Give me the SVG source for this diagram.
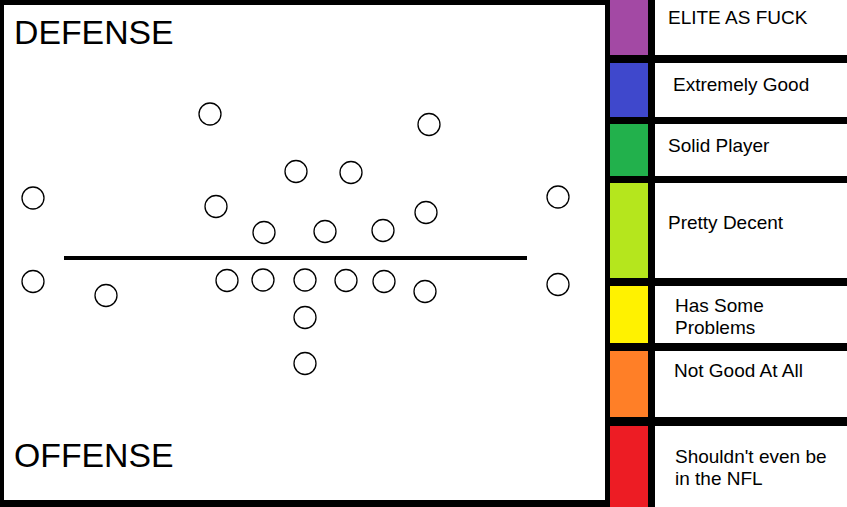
<svg xmlns="http://www.w3.org/2000/svg" width="847" height="507" viewBox="0 0 847 507">
<style>
.p{fill:#fff;stroke:#000;stroke-width:1.3}
.t{font-family:"Liberation Sans",Arial,sans-serif;font-size:19px;fill:#000}
.h{font-family:"Liberation Sans",Arial,sans-serif;font-size:33.8px;fill:#000}
.k{fill:#000}
</style>
<rect width="847" height="507" fill="#fff"/>
<g id="field">
<rect class="k" x="0" y="0" width="610" height="5"/>
<rect class="k" x="0" y="0" width="4" height="507"/>
<rect class="k" x="0" y="500" width="610" height="7"/>
<rect class="k" x="605" y="0" width="5" height="507"/>
<text class="h" x="14" y="44">DEFENSE</text>
<text class="h" x="14" y="467">OFFENSE</text>
</g>
<g id="connectors">
<rect class="k" x="64" y="256" width="463" height="4"/>
</g>
<g id="defense">
<g id="d1"><circle class="p" cx="210" cy="114" r="11"/></g>
<g id="d2"><circle class="p" cx="429" cy="124.5" r="11"/></g>
<g id="d3"><circle class="p" cx="296" cy="171.5" r="11"/></g>
<g id="d4"><circle class="p" cx="351" cy="172.5" r="11"/></g>
<g id="d5"><circle class="p" cx="33" cy="198" r="11"/></g>
<g id="d6"><circle class="p" cx="558" cy="197" r="11"/></g>
<g id="d7"><circle class="p" cx="216" cy="206.5" r="11"/></g>
<g id="d8"><circle class="p" cx="426" cy="212.5" r="11"/></g>
<g id="d9"><circle class="p" cx="264" cy="232.5" r="11"/></g>
<g id="d10"><circle class="p" cx="325" cy="231.5" r="11"/></g>
<g id="d11"><circle class="p" cx="383" cy="230.5" r="11"/></g>
</g>
<g id="offense">
<g id="o1"><circle class="p" cx="33" cy="281.5" r="11"/></g>
<g id="o2"><circle class="p" cx="106" cy="295.5" r="11"/></g>
<g id="o3"><circle class="p" cx="227" cy="280.5" r="11"/></g>
<g id="o4"><circle class="p" cx="263" cy="280" r="11"/></g>
<g id="o5"><circle class="p" cx="305" cy="280" r="11"/></g>
<g id="o6"><circle class="p" cx="346" cy="280.5" r="11"/></g>
<g id="o7"><circle class="p" cx="384" cy="281.5" r="11"/></g>
<g id="o8"><circle class="p" cx="425" cy="291.5" r="11"/></g>
<g id="o9"><circle class="p" cx="558" cy="284.5" r="11"/></g>
<g id="o10"><circle class="p" cx="305" cy="317.5" r="11"/></g>
<g id="o11"><circle class="p" cx="305" cy="363.5" r="11"/></g>
</g>
<g id="legend">
<rect class="k" x="648" y="0" width="7" height="507"/>
<g id="elite"><rect x="610" y="0" width="38" height="55" fill="#A349A4"/><text class="t" x="668" y="24">ELITE AS FUCK</text></g>
<rect class="k" x="605" y="55" width="242" height="8"/>
<g id="extremely"><rect x="610" y="63" width="38" height="54" fill="#3F48CC"/><text class="t" x="673" y="91">Extremely Good</text></g>
<rect class="k" x="605" y="117" width="242" height="7"/>
<g id="solid"><rect x="610" y="124" width="38" height="52" fill="#22B14C"/><text class="t" x="668" y="152">Solid Player</text></g>
<rect class="k" x="605" y="176" width="242" height="7"/>
<g id="pretty"><rect x="610" y="183" width="38" height="95" fill="#B5E61D"/><text class="t" x="668" y="229">Pretty Decent</text></g>
<rect class="k" x="605" y="278" width="242" height="8"/>
<g id="problems"><rect x="610" y="286" width="38" height="57" fill="#FFF200"/><text class="t" x="675" y="312">Has Some</text><text class="t" x="675" y="334">Problems</text></g>
<rect class="k" x="605" y="343" width="242" height="8"/>
<g id="notgood"><rect x="610" y="351" width="38" height="66" fill="#FF7F27"/><text class="t" x="674" y="377">Not Good At All</text></g>
<rect class="k" x="605" y="417" width="242" height="9"/>
<g id="nfl"><rect x="610" y="426" width="38" height="81" fill="#ED1C24"/><text class="t" x="675" y="463">Shouldn't even be</text><text class="t" x="675" y="485">in the NFL</text></g>
</g>
</svg>
